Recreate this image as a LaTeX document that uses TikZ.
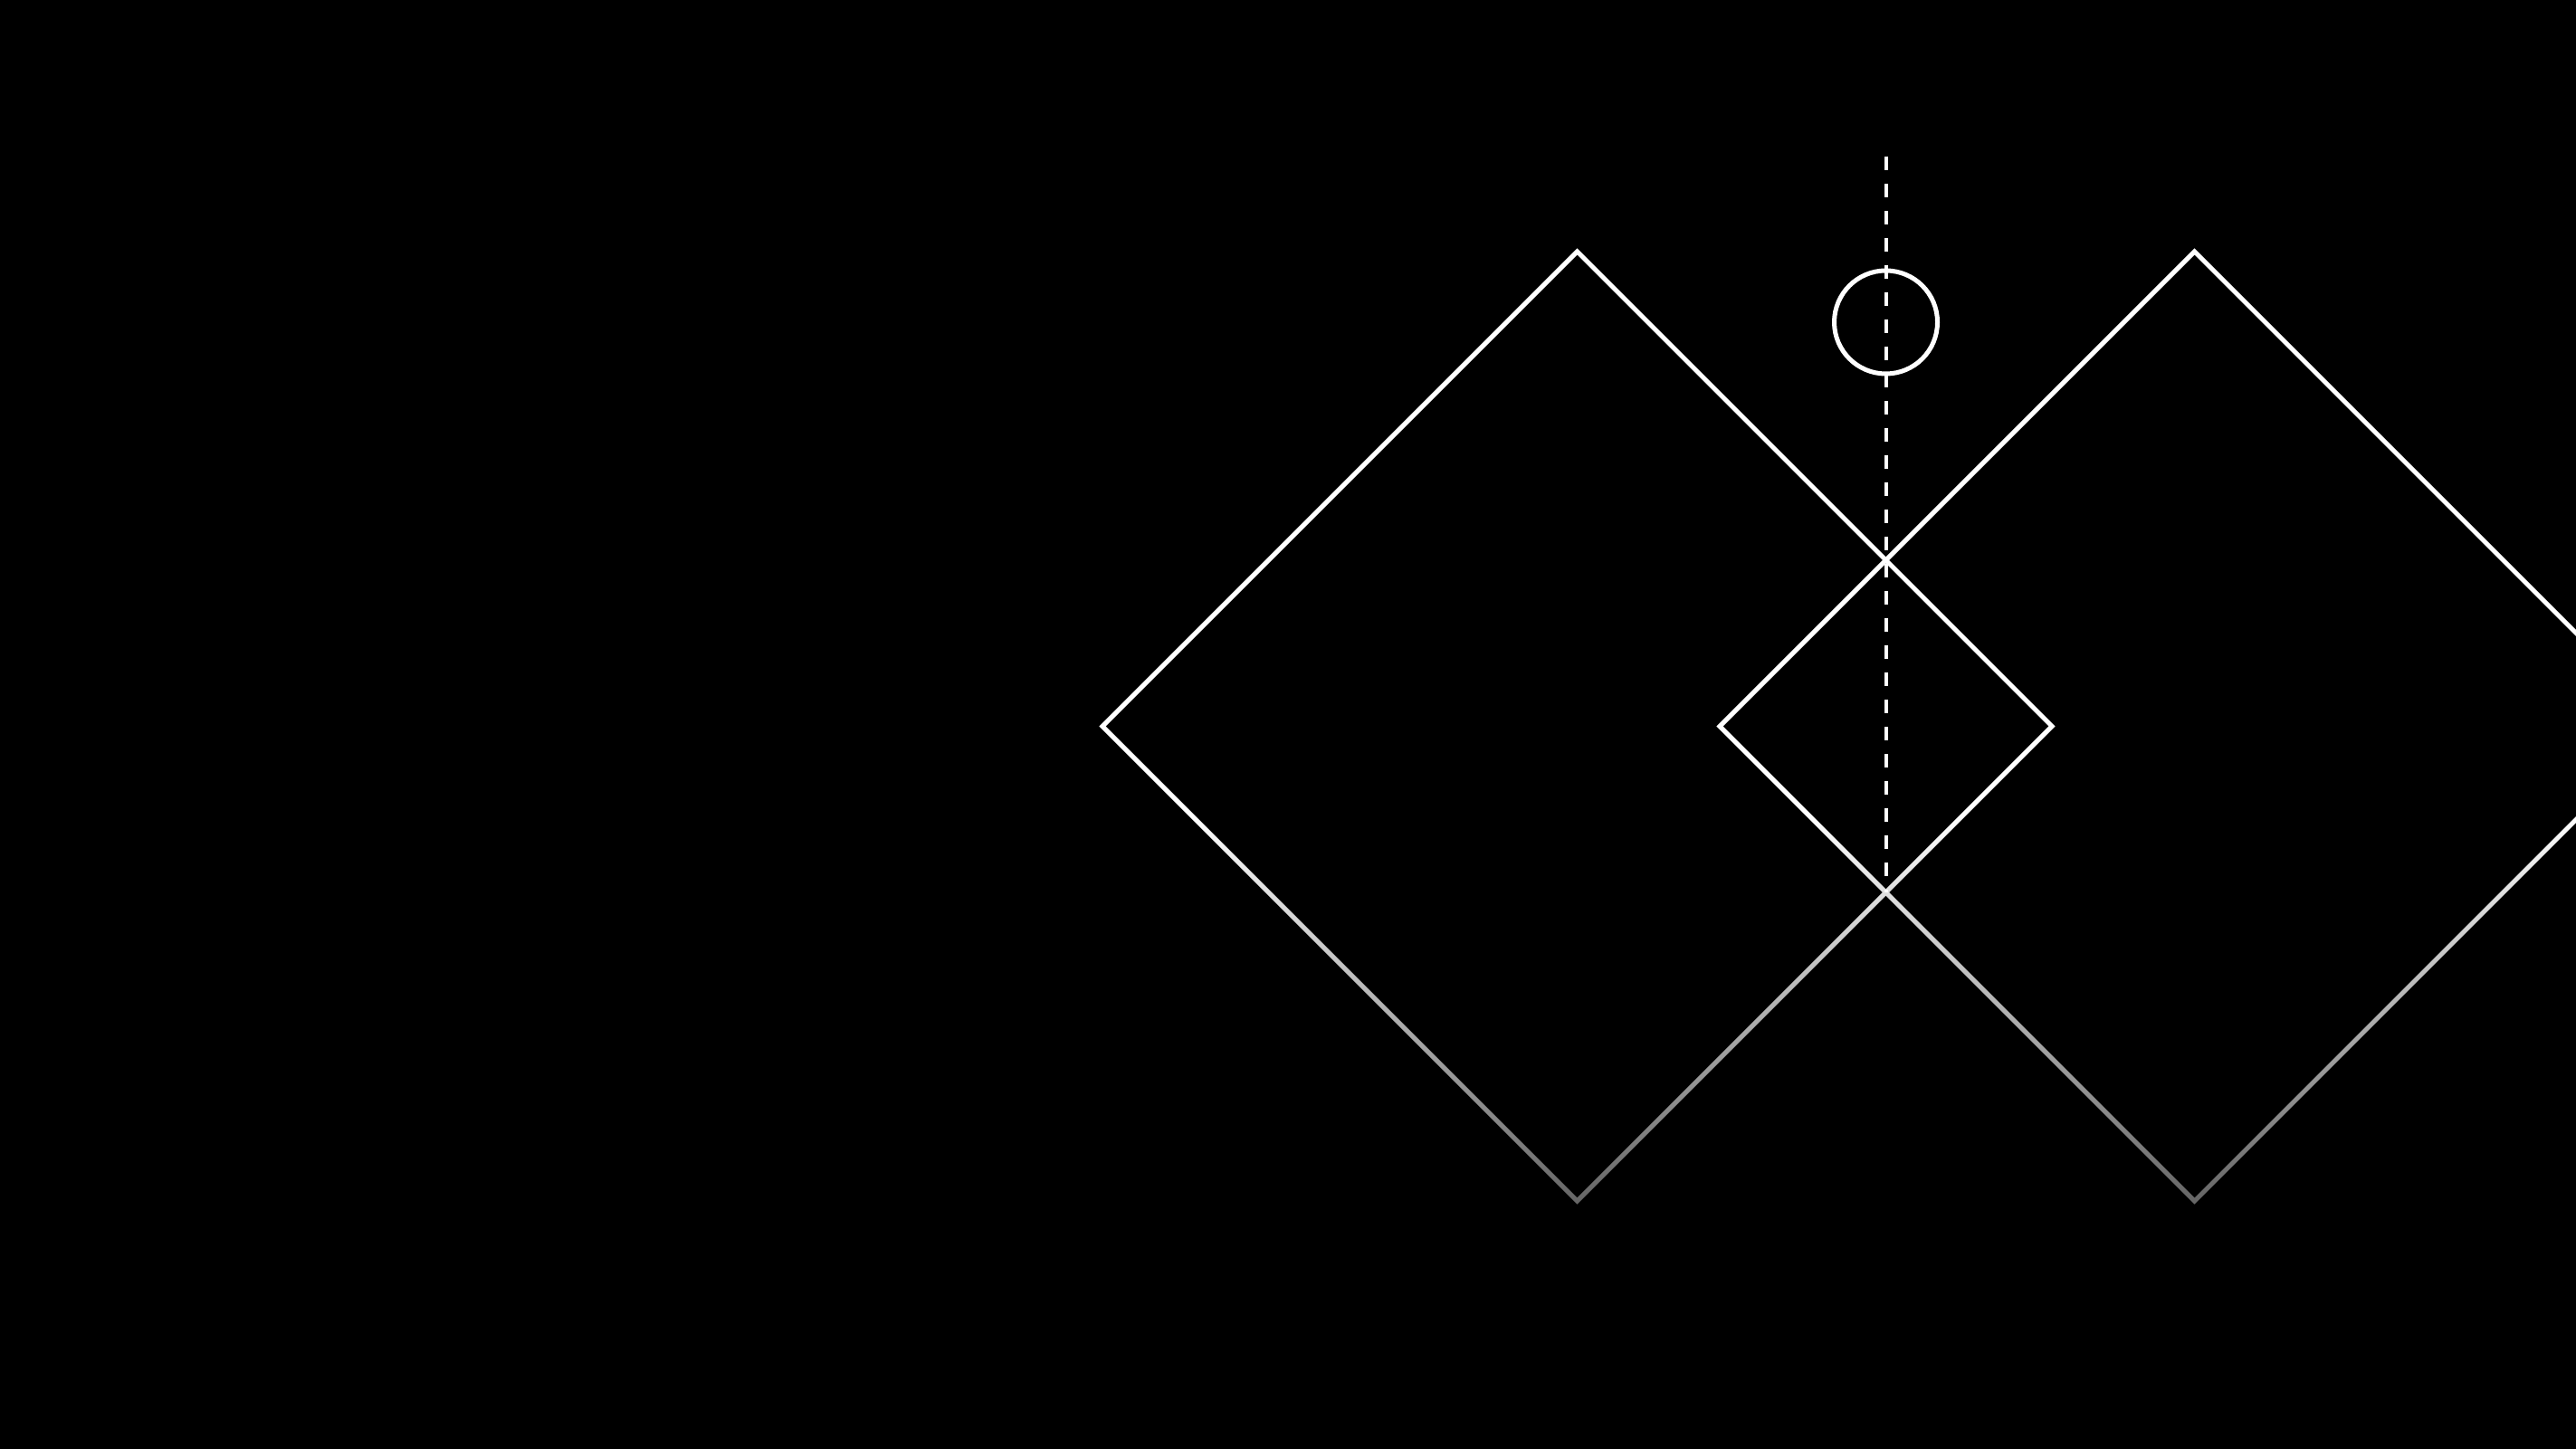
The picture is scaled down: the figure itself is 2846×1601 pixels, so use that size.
\documentclass[tikz,border=0pt]{standalone}
\usetikzlibrary{fadings}
\tikzset{
  edge/.style={white, line width=0.05cm, line join=miter},
  guide/.style={white, line width=0.04cm, dash pattern=on 0.15cm off 0.15cm},
}
\tikzfading[name=fadedown, top color=transparent!100, bottom color=transparent!38]
\begin{document}
\begin{tikzpicture}[x=0.01cm,y=-0.01cm]
        \useasboundingbox (0,0) rectangle (2846,1601);
        \clip (0,0) rectangle (2846,1601);
        \fill[black] (0,0) rectangle (2846,1601);
        \coordinate (lc) at (1742.5, 802.5);
        \coordinate (rc) at (2424.5, 802.5);
        \coordinate (top) at (2083.5, 173);
        \coordinate (low) at (2083.5, 986);
        \coordinate (ring) at (2083.5, 356);

        \draw[edge] (lc) +(0,-524.5) -- +(524.5,0) -- +(0,524.5) -- +(-524.5,0) -- cycle;
        \draw[edge] (rc) +(0,-524.5) -- +(524.5,0) -- +(0,524.5) -- +(-524.5,0) -- cycle;
        % darken the lower part
        \fill[black, path fading=fadedown] (1150, 900) rectangle (2846, 1340);

        \draw[edge] (ring) circle (57);
        \draw[guide] (top) -- (low);
\end{tikzpicture}
\end{document}
